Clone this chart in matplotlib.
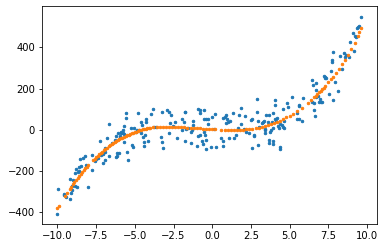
import numpy as np
import matplotlib
matplotlib.use("Agg")
import matplotlib.pyplot as plt

# noisy samples
pts = [
    (-10.04, -408), (-9.98, -287), (-9.61, -315), (-9.55, -310), (-9.48, -323),
    (-9.18, -335), (-9.12, -306), (-9.05, -290), (-9.18, -239), (-8.97, -242),
    (-8.84, -274), (-8.75, -277), (-9.05, -271), (-8.79, -190), (-8.68, -202),
    (-8.62, -181), (-8.58, -197), (-8.51, -174), (-8.84, -210), (-8.53, -142),
    (-8.32, -137), (-8.25, -126), (-8.15, -169), (-8.04, -277), (-7.78, -194),
    (-7.78, -121), (-7.57, -153), (-7.50, -142), (-7.39, -137), (-7.28, -53),
    (-7.07, -116), (-7.00, -105), (-6.90, -89), (-6.81, -40), (-6.68, -126),
    (-6.64, 29), (-6.21, -132), (-6.17, -113), (-6.03, -113), (-6.10, -16),
    (-5.99, -29), (-5.88, -13), (-5.78, -3), (-5.73, -61), (-7.18, -121),
    (-7.03, -161), (-6.96, -145), (-6.94, -105), (-6.47, -65), (-6.31, -48),
    (-6.21, -32), (-6.16, -129),
    (-5.95, -35), (-5.88, -8), (-5.77, -13), (-5.67, -19), (-5.60, 81),
    (-5.56, 56), (-5.67, 19), (-5.52, -105), (-5.45, -145), (-5.24, 11),
    (-5.08, 11), (-5.17, -73), (-5.13, -81), (-4.91, -8), (-4.87, 0),
    (-4.80, 81), (-4.70, -3), (-4.63, -13), (-4.59, 40), (-4.52, 24),
    (-4.48, -35), (-4.44, -61), (-4.37, -24), (-4.31, 40), (-4.27, 52),
    (-4.44, -77), (-4.16, -56), (-3.94, 76), (-3.84, 100), (-3.73, 16),
    (-3.62, 13), (-3.30, -35), (-3.23, -60), (-3.19, -89), (-3.23, 85),
    (-2.90, 96), (-2.80, 85), (-2.65, 72), (-2.71, 32), (-2.54, 19),
    (-2.80, -16), (-2.43, 40), (-2.28, -40), (-1.94, 52), (-1.83, 40),
    (-1.79, 85), (-1.94, 0), (-1.68, 3), (-1.55, 8),
    (-1.75, 85), (-1.73, -56), (-1.36, -64), (-1.25, 24), (-1.21, 45),
    (-1.32, 0), (-1.40, -8), (-0.97, -77), (-0.93, 100), (-0.82, 94),
    (-0.78, 81), (-0.89, -32), (-0.76, -27), (-0.67, -56), (-0.60, -69),
    (-0.54, 97), (-0.54, 52), (-0.39, 52), (-0.24, 52), (-0.50, -8),
    (-0.45, -24), (-0.39, -93), (-0.43, -48), (-0.28, 27), (-0.07, -84),
    (0.00, 64), (0.11, 5), (0.19, 76), (0.26, -81), (0.58, -37),
    (0.69, -52), (0.69, -76), (0.69, 56), (0.80, 64), (0.90, 72),
    (0.97, 52), (1.05, 40), (1.18, 45), (0.86, 32), (1.08, -40),
    (1.34, 81), (1.44, -40), (1.55, -24), (1.66, 8), (1.70, 72),
    (1.83, 105), (1.87, 27), (2.05, 3), (2.09, 68), (2.20, -8),
    (2.35, -13), (2.52, 48), (2.58, -89), (2.69, -24),
    (2.58, 52), (2.67, -32), (2.88, 148), (2.88, 85), (2.95, 44),
    (2.95, -73), (3.01, 16), (3.23, 32), (3.27, 40), (3.32, 45),
    (3.38, -13), (3.38, 3), (3.49, 73), (3.66, 73), (3.60, 40),
    (3.44, 0), (3.66, -48), (3.70, -64), (3.75, -8), (3.81, 0),
    (3.92, 81), (3.88, 37), (3.96, -53), (3.92, 8), (3.96, -68),
    (4.03, 121), (4.03, 145), (4.09, 52), (4.13, 45), (4.18, 56),
    (4.24, 19), (4.39, 29), (4.31, 8), (4.35, -81), (4.41, -94),
    (4.52, 24), (4.56, 16), (4.61, 11), (4.56, 100), (4.67, 45),
    (4.82, 132), (4.89, 113), (5.17, 158), (5.47, 84), (5.47, 52),
    (5.60, 116), (5.64, 121), (5.64, 52), (5.81, 42), (5.86, 153),
    (6.46, 242), (6.50, 218), (6.68, 226), (6.68, 192), (6.72, 161),
    (6.83, 166), (6.94, 150), (7.04, 134), (7.11, 137), (6.89, 134),
    (6.55, 129), (6.61, 97), (6.63, 69), (6.46, 137), (7.20, 263),
    (7.32, 258), (7.26, 250), (7.37, 253), (7.54, 172), (7.69, 287),
    (7.80, 379), (7.76, 339), (7.76, 327), (7.80, 145), (7.91, 230),
    (8.12, 189), (8.23, 360), (8.36, 295), (8.51, 371), (8.55, 355),
    (8.62, 363), (8.83, 352), (8.92, 424), (9.09, 468), (9.20, 456),
    (9.31, 452), (9.35, 492), (9.48, 505), (9.42, 497), (9.16, 382),
    (9.63, 548),
]
x_data = [p[0] for p in pts]
y_data = [p[1] for p in pts]

# fitted curve points (orange)
fit_x = [-10.0, -9.9, -9.5, -9.4, -9.2, -9.1, -9.0, -8.9, -8.8, -8.7, -8.6, -8.5,
         -8.4, -8.3, -8.2, -8.1, -8.0, -7.7, -7.6, -7.5, -7.4, -7.3, -7.2, -7.1,
         -7.0, -6.9, -6.8, -6.7, -6.6, -6.5, -6.4, -6.3, -6.2, -6.1, -6.0, -5.9,
         -5.8, -5.7, -5.6, -5.5, -5.4, -5.3, -5.2, -5.1, -5.0, -4.9, -4.8, -4.7,
         -4.6, -4.5, -4.4, -4.3, -4.2, -4.1, -4.0, -3.8, -3.6, -3.4, -3.2, -3.0,
         -2.8, -2.6, -2.4, -2.2, -2.0, -1.8, -1.6, -1.4, -1.2, -1.0, -0.8, -0.6,
         -0.4, -0.2, 0.0, 0.2, 0.6, 0.8, 1.0, 1.2, 1.4, 1.6, 1.8, 2.0, 2.2, 2.4,
         2.6, 2.8, 3.0, 3.2, 3.4, 3.6, 3.8, 4.0, 4.2, 4.4, 4.6, 4.8, 5.0, 5.2,
         5.5, 5.8, 6.2, 6.4, 6.6, 6.7, 6.8, 6.9, 7.0, 7.1, 7.2, 7.3, 7.5, 7.7,
         7.8, 8.0, 8.2, 8.4, 8.6, 8.8, 9.0, 9.2, 9.4, 9.5, 9.6]
fit_y = [-380, -368, -318, -306, -285, -275, -262, -252, -243, -233, -222, -212,
         -203, -194, -186, -178, -170, -147, -140, -132, -126, -119, -112, -105,
         -98, -92, -86, -80, -74, -68, -63, -58, -53, -49, -45, -41,
         -37, -33, -29, -26, -23, -19, -16, -13, -10, -8, -5, -3,
         0, 2, 4, 6, 7, 9, 10, 12, 14, 15, 15, 16,
         16, 15, 15, 14, 13, 12, 11, 10, 9, 8, 7, 6,
         5, 4, 3, 2, 1, 0, 0, 0, 0, 0, 1, 1, 2, 3,
         5, 7, 10, 13, 17, 22, 27, 32, 38, 45, 52, 60, 68, 77,
         92, 108, 132, 145, 158, 166, 174, 181, 188, 196, 205, 213, 230, 248,
         258, 277, 297, 318, 340, 362, 390, 420, 455, 475, 495]

fig = plt.figure(figsize=(383 / 72, 248 / 72), dpi=72)
ax = fig.add_axes([42 / 383, 24 / 248, 335 / 383, 218 / 248])
ax.scatter(x_data, y_data, s=6, color="#1f77b4")
ax.scatter(fit_x, fit_y, s=6, color="#ff7f0e")
ax.set_xlim(-11.0, 10.65)
ax.set_ylim(-456, 600)
ax.set_xticks([-10.0, -7.5, -5.0, -2.5, 0.0, 2.5, 5.0, 7.5, 10.0])
ax.set_yticks([-400, -200, 0, 200, 400])
fig.savefig("out.png", dpi=72)
